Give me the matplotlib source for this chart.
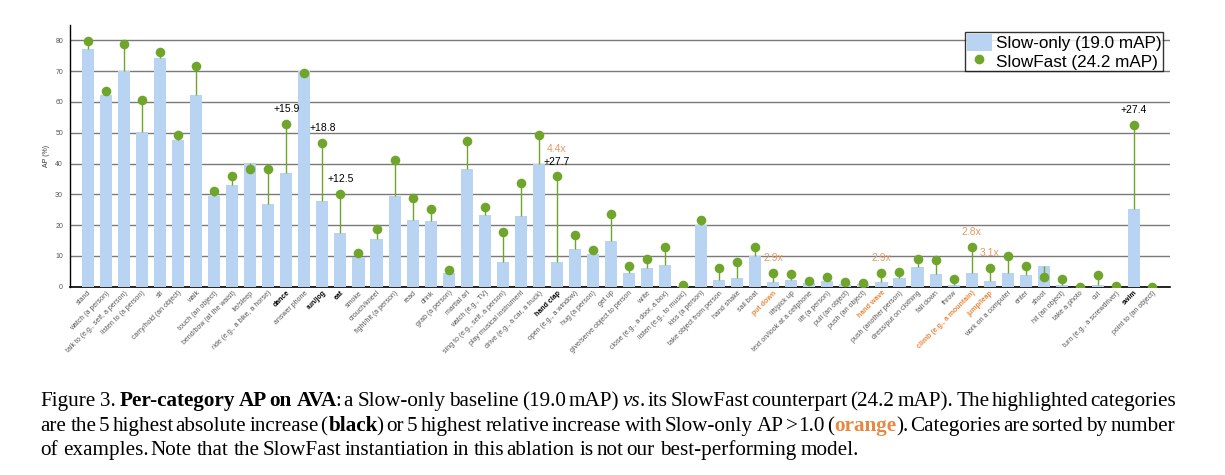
import matplotlib
matplotlib.use("Agg")
import numpy as np
import matplotlib.pyplot as plt
from matplotlib.figure import Figure
from matplotlib.backends.backend_agg import FigureCanvasAgg
from matplotlib.patches import Patch
from matplotlib.lines import Line2D

# AVA categories, sorted by number of examples
categories = [
    "stand", "watch (a person)", "talk to (e.g., self, a person)", "listen to (a person)", "sit",
    "carry/hold (an object)", "walk", "touch (an object)", "bend/bow (at the waist)", "lie/sleep",
    "ride (e.g., a bike, a horse)", "dance", "answer phone", "run/jog", "eat",
    "smoke", "crouch/kneel", "fight/hit (a person)", "read", "drink",
    "grab (a person)", "martial art", "watch (e.g., TV)", "sing to (e.g., self, a person)", "play musical instrument",
    "drive (e.g., a car, a truck)", "hand clap", "open (e.g., a window)", "hug (a person)", "get up",
    "give/serve object to person", "write", "close (e.g., a door, a box)", "listen (e.g., to music)", "kiss (a person)",
    "take object from person", "hand shake", "sail boat", "put down", "lift/pick up",
    "text on/look at a cellphone", "lift (a person)", "pull (an object)", "push (an object)", "hand wave",
    "push (another person)", "dress/put on clothing", "fall down", "throw", "climb (e.g., a mountain)",
    "jump/leap", "work on a computer", "enter", "shoot", "hit (an object)",
    "take a photo", "cut", "turn (e.g., a screwdriver)", "swim", "point to (an object)",
]

slow_only = [
    77.1, 62.4, 70.0, 50.3, 74.2, 47.5, 62.1, 29.6, 33.1, 40.2,
    26.9, 37.0, 70.0, 27.9, 17.5, 9.6, 15.5, 29.6, 21.7, 21.4,
    4.4, 38.3, 23.4, 8.0, 23.0, 39.9, 8.1, 12.3, 10.6, 14.9,
    4.4, 6.1, 7.1, 0.2, 20.2, 2.2, 2.8, 10.0, 1.6, 2.2,
    1.1, 1.9, 0.8, 0.8, 1.6, 2.9, 6.4, 4.1, 0.6, 4.6,
    2.0, 4.4, 3.8, 6.7, 0.5, 0.0, 0.5, 0.0, 25.2, 0.0,
]

slowfast = [
    79.8, 63.5, 78.7, 60.5, 76.2, 49.4, 71.6, 31.0, 35.8, 38.3,
    38.1, 52.9, 69.5, 46.7, 30.0, 11.1, 18.7, 41.3, 28.7, 25.4,
    5.5, 47.4, 25.9, 17.8, 33.7, 49.4, 35.8, 16.8, 12.0, 23.6,
    6.6, 9.1, 12.9, 0.5, 21.6, 6.2, 8.1, 12.9, 4.6, 4.1,
    1.9, 3.0, 1.4, 1.3, 4.6, 4.9, 9.0, 8.8, 2.4, 12.9,
    6.2, 9.9, 6.7, 3.0, 2.5, 0.0, 3.8, 0.1, 52.6, 0.0,
]

# highlighted categories and their labels
abs_labels = {"dance": "+15.9", "run/jog": "+18.8", "eat": "+12.5",
              "hand clap": "+27.7", "swim": "+27.4"}
rel_labels = {"hand clap": "4.4x", "put down": "2.9x", "hand wave": "2.9x",
              "climb (e.g., a mountain)": "2.8x", "jump/leap": "3.1x"}

bar_color = "#b9d3f3"
dot_color = "#70a52c"
orange = "#e8873f"

fig = plt.figure(figsize=(12.25, 4.75), dpi=100)
ax = fig.add_axes([0.0571, 0.3964, 0.898, 0.551])

x = np.arange(len(categories))
ax.bar(x, slow_only, width=0.67, color=bar_color, zorder=3)
lo = np.minimum(slow_only, slowfast)
hi = np.maximum(slow_only, slowfast)
ax.vlines(x, lo, hi, color=dot_color, lw=1.0, zorder=4)
ax.scatter(x, slowfast, s=48, color=dot_color, zorder=5, linewidths=0)

for i, name in enumerate(categories):
    if name in abs_labels:
        ax.text(x[i], slowfast[i] + 3.2, abs_labels[name], ha="center", va="bottom",
                fontsize=7.5, family="Liberation Sans", color="black", zorder=6)
    if name in rel_labels:
        dy = 7.2 if name in abs_labels else 3.2
        ax.text(x[i], slowfast[i] + dy, rel_labels[name], ha="center", va="bottom",
                fontsize=7.5, family="Liberation Sans", color="#e39a62", zorder=6)

ax.set_xlim(-1, len(categories))
ax.set_ylim(0, 85)
ax.set_yticks(range(0, 81, 10))
ax.yaxis.grid(True, color="#7a7a7a", lw=1.0)
ax.set_axisbelow(True)
for s in ["top", "right"]:
    ax.spines[s].set_visible(False)
ax.spines["left"].set_linewidth(1.0)
ax.spines["bottom"].set_linewidth(1.2)
ax.tick_params(axis="both", length=0, labelsize=5, labelcolor="#555555")
ax.tick_params(axis="x", pad=2)
ax.tick_params(axis="y", pad=5)
ax.set_ylabel("AP (%)", fontsize=5, color="#333333", family="Liberation Sans", labelpad=4)
for lab in ax.get_yticklabels():
    lab.set_family("Liberation Sans")

ax.set_xticks(x)
ax.set_xticklabels(categories, rotation=45, ha="right", rotation_mode="anchor",
                   family="Liberation Sans")
for lab, name in zip(ax.get_xticklabels(), categories):
    if name in abs_labels:
        lab.set_color("black")
        lab.set_fontweight("bold")
    elif name in rel_labels:
        lab.set_color(orange)
        lab.set_fontweight("bold")

handles = [Patch(facecolor=bar_color, edgecolor="none"),
           Line2D([], [], marker="o", ls="none", color=dot_color, markersize=6)]
leg = ax.legend(handles, ["Slow-only (19.0 mAP)", "SlowFast (24.2 mAP)"],
                loc="upper right", bbox_to_anchor=(0.994, 0.973),
                prop={"family": "Liberation Sans", "size": 12.3},
                frameon=True, fancybox=False, borderpad=0.1, handlelength=1.45,
                handleheight=1.2, handletextpad=0.25, labelspacing=0.05, borderaxespad=0.0)
leg.get_frame().set_edgecolor("black")
leg.get_frame().set_linewidth(1.0)
leg.set_zorder(10)

# caption below the chart, justified like the paper
N, B, I = "normal", "bold", "italic"
K = "black"
cap_lines = [
    [[("Figure", N, K)], [("3.", N, K)], [("Per-category", B, K)], [("AP", B, K)], [("on", B, K)],
     [("AVA", B, K), (":", N, K)], [("a", N, K)], [("Slow-only", N, K)], [("baseline", N, K)],
     [("(19.0", N, K)], [("mAP)", N, K)], [("vs", I, K), (".", N, K)], [("its", N, K)],
     [("SlowFast", N, K)], [("counterpart", N, K)], [("(24.2", N, K)], [("mAP).", N, K)],
     [("The", N, K)], [("highlighted", N, K)], [("categories", N, K)]],
    [[("are", N, K)], [("the", N, K)], [("5", N, K)], [("highest", N, K)], [("absolute", N, K)],
     [("increase", N, K)], [("(", N, K), ("black", B, K), (")", N, K)], [("or", N, K)], [("5", N, K)],
     [("highest", N, K)], [("relative", N, K)], [("increase", N, K)], [("with", N, K)],
     [("Slow-only", N, K)], [("AP", N, K)], [(">", N, K)], [("1.0", N, K)],
     [("(", N, K), ("orange", B, orange), (").", N, K)], [("Categories", N, K)], [("are", N, K)],
     [("sorted", N, K)], [("by", N, K)], [("number", N, K)]],
    [[("of", N, K)], [("examples.", N, K)], [("Note", N, K)], [("that", N, K)], [("the", N, K)],
     [("SlowFast", N, K)], [("instantiation", N, K)], [("in", N, K)], [("this", N, K)],
     [("ablation", N, K)], [("is", N, K)], [("not", N, K)], [("our", N, K)],
     [("best-performing", N, K)], [("model.", N, K)]],
]
cap_y = [406, 431, 455]
x_left, x_right = 42.7, 1175.0
fs = 15.2
W, H = 1225.0, 475.0


def font_kw(style):
    return dict(fontsize=fs, family="Liberation Serif",
                weight="bold" if style == B else "normal",
                style="italic" if style == I else "normal")


def ink_span(txt, style):
    # render the text alone and find its inked columns relative to the anchor
    f = Figure(figsize=(6, 0.5), dpi=100)
    FigureCanvasAgg(f)
    f.text(10 / 600, 0.3, txt, ha="left", va="baseline", **font_kw(style))
    f.canvas.draw()
    a = np.asarray(f.canvas.buffer_rgba())[:, :, :3]
    cols = np.where((a < 160).any(axis=2).any(axis=0))[0]
    return cols[0] - 10.0, cols[-1] + 1 - 10.0


def ink_w(txt, style):
    l, r = ink_span(txt, style)
    return r - l


space = ink_w("a a", N) - 2 * ink_w("a", N)

for li, words in enumerate(cap_lines):
    layout = []
    total = 0.0
    for w in words:
        segs = []
        right = 0.0
        for k, (txt, st, col) in enumerate(w):
            l, r = ink_span(txt, st)
            if k == 0:
                ink_left = 0.0
            else:
                ptxt, pst = w[k - 1][0], w[k - 1][1]
                join = ink_w(ptxt + txt, pst) - ink_w(ptxt, pst) - ink_w(txt, pst)
                ink_left = right + join
            segs.append((txt, st, col, ink_left - l))
            right = ink_left + (r - l)
        layout.append((segs, right))
        total += right
    if li < len(cap_lines) - 1:
        gap = (x_right - x_left - total) / (len(words) - 1)
    else:
        gap = space
    cx = x_left
    for segs, wd in layout:
        for txt, st, col, off in segs:
            fig.text((cx + off) / W, 1 - cap_y[li] / H, txt, color=col,
                     ha="left", va="baseline", **font_kw(st))
        cx += wd + gap

fig.savefig("out.png", dpi=100)
